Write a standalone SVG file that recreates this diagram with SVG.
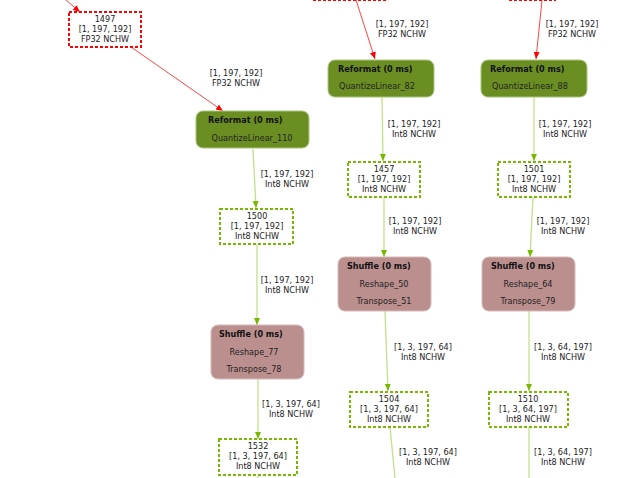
<svg xmlns="http://www.w3.org/2000/svg" width="620" height="478" viewBox="0 0 620 478">
<style>
text{font-family:"DejaVu Sans Condensed","DejaVu Sans",sans-serif;font-size:9px;fill:#222;text-anchor:middle}
.b{font-weight:bold;text-anchor:start;fill:#111}
.t{fill:#ffffff;stroke:#ff0000;stroke-width:2;stroke-dasharray:3,2}
.g{fill:#ffffff;stroke:#76b900;stroke-width:2;stroke-dasharray:3,2}
.ref{fill:#6b8e23;stroke:#a8c47a;stroke-width:1}
.shf{fill:#bc8f8f;stroke:#d8b8b8;stroke-width:1}
.er{stroke:#ff4444;stroke-width:1;fill:none;marker-end:url(#ar)}
.eg{stroke:#c2e08a;stroke-width:1.3;fill:none;marker-end:url(#ag)}
.eg0{stroke:#c2e08a;stroke-width:1.3;fill:none}
</style>
<defs>
<marker id="ar" markerWidth="8" markerHeight="8" refX="7" refY="4" orient="auto" markerUnits="userSpaceOnUse"><path d="M0,1 L7,4 L0,7z" fill="#ff0000"/></marker>
<marker id="ag" markerWidth="8" markerHeight="8" refX="7" refY="4" orient="auto" markerUnits="userSpaceOnUse"><path d="M0,1 L7,4 L0,7z" fill="#76b900"/></marker>
</defs>
<rect width="620" height="478" fill="#fff"/>
<g id="edges">
<path class="er" d="M66,0 L80,12"/>
<path class="er" d="M131,47 L223,111"/>
<text x="236" y="76">[1, 197, 192]</text><text x="236" y="86">FP32 NCHW</text>
<path class="eg" d="M253,149 L256,208"/>
<text x="287" y="177">[1, 197, 192]</text><text x="287" y="187">Int8 NCHW</text>
<path class="eg" d="M257,244 L257,325"/>
<text x="287" y="283">[1, 197, 192]</text><text x="287" y="293">Int8 NCHW</text>
<path class="eg" d="M258,379 L258,439"/>
<text x="291" y="407">[1, 3, 197, 64]</text><text x="291" y="417">Int8 NCHW</text>
<path class="eg0" d="M258,475 L258,478"/>

<path class="er" d="M356,0 L375,59"/>
<text x="402" y="27">[1, 197, 192]</text><text x="402" y="37">FP32 NCHW</text>
<path class="eg" d="M382,97 L383,161"/>
<text x="414" y="127">[1, 197, 192]</text><text x="414" y="137">Int8 NCHW</text>
<path class="eg" d="M384,197 L384,257"/>
<text x="415" y="224">[1, 197, 192]</text><text x="415" y="234">Int8 NCHW</text>
<path class="eg" d="M385,311 L388,391"/>
<text x="423" y="350">[1, 3, 197, 64]</text><text x="423" y="360">Int8 NCHW</text>
<path class="eg0" d="M390,427 L395,478"/>
<text x="428" y="455">[1, 3, 197, 64]</text><text x="428" y="465">Int8 NCHW</text>

<path class="er" d="M542,0 L536,59"/>
<text x="572" y="27">[1, 197, 192]</text><text x="572" y="37">FP32 NCHW</text>
<path class="eg" d="M534,97 L534,161"/>
<text x="565" y="127">[1, 197, 192]</text><text x="565" y="137">Int8 NCHW</text>
<path class="eg" d="M533,197 L530,257"/>
<text x="563" y="224">[1, 197, 192]</text><text x="563" y="234">Int8 NCHW</text>
<path class="eg" d="M529,311 L529,391"/>
<text x="563" y="350">[1, 3, 64, 197]</text><text x="563" y="360">Int8 NCHW</text>
<path class="eg0" d="M529,427 L529,478"/>
<text x="563" y="455">[1, 3, 64, 197]</text><text x="563" y="465">Int8 NCHW</text>
</g>
<g id="top2"><rect class="t" x="313" y="-10" width="74" height="10"/></g>
<g id="top3"><rect class="t" x="508" y="-10" width="47" height="10"/></g>
<g id="n1497"><rect class="t" x="69" y="12" width="72" height="35"/><text x="105" y="22">1497</text><text x="105" y="32">[1, 197, 192]</text><text x="105" y="42">FP32 NCHW</text></g>
<g id="r110"><rect class="ref" x="196" y="111" width="113" height="37" rx="7"/><text class="b" x="208" y="123">Reformat (0 ms)</text><text x="252" y="141">QuantizeLinear_110</text></g>
<g id="n1500"><rect class="g" x="220" y="209" width="73" height="35"/><text x="257" y="219">1500</text><text x="257" y="229">[1, 197, 192]</text><text x="257" y="239">Int8 NCHW</text></g>
<g id="s77"><rect class="shf" x="211" y="325" width="93" height="54" rx="7"/><text class="b" x="219" y="337">Shuffle (0 ms)</text><text x="254" y="355">Reshape_77</text><text x="254" y="372">Transpose_78</text></g>
<g id="n1532"><rect class="g" x="219" y="439" width="78" height="36"/><text x="258" y="449">1532</text><text x="258" y="459">[1, 3, 197, 64]</text><text x="258" y="469">Int8 NCHW</text></g>

<g id="r82"><rect class="ref" x="328" y="60" width="106" height="37" rx="7"/><text class="b" x="338" y="72">Reformat (0 ms)</text><text x="377" y="89">QuantizeLinear_82</text></g>
<g id="n1457"><rect class="g" x="348" y="162" width="72" height="35"/><text x="384" y="172">1457</text><text x="384" y="182">[1, 197, 192]</text><text x="384" y="192">Int8 NCHW</text></g>
<g id="s50"><rect class="shf" x="338" y="257" width="93" height="54" rx="7"/><text class="b" x="347" y="269">Shuffle (0 ms)</text><text x="384" y="287">Reshape_50</text><text x="384" y="304">Transpose_51</text></g>
<g id="n1504"><rect class="g" x="350" y="392" width="78" height="35"/><text x="389" y="402">1504</text><text x="389" y="412">[1, 3, 197, 64]</text><text x="389" y="422">Int8 NCHW</text></g>

<g id="r88"><rect class="ref" x="481" y="60" width="106" height="37" rx="7"/><text class="b" x="490" y="72">Reformat (0 ms)</text><text x="530" y="89">QuantizeLinear_88</text></g>
<g id="n1501"><rect class="g" x="498" y="162" width="72" height="35"/><text x="534" y="172">1501</text><text x="534" y="182">[1, 197, 192]</text><text x="534" y="192">Int8 NCHW</text></g>
<g id="s64"><rect class="shf" x="482" y="257" width="93" height="54" rx="7"/><text class="b" x="491" y="269">Shuffle (0 ms)</text><text x="528" y="287">Reshape_64</text><text x="528" y="304">Transpose_79</text></g>
<g id="n1510"><rect class="g" x="489" y="392" width="79" height="35"/><text x="528" y="402">1510</text><text x="528" y="412">[1, 3, 64, 197]</text><text x="528" y="422">Int8 NCHW</text></g>
</svg>
